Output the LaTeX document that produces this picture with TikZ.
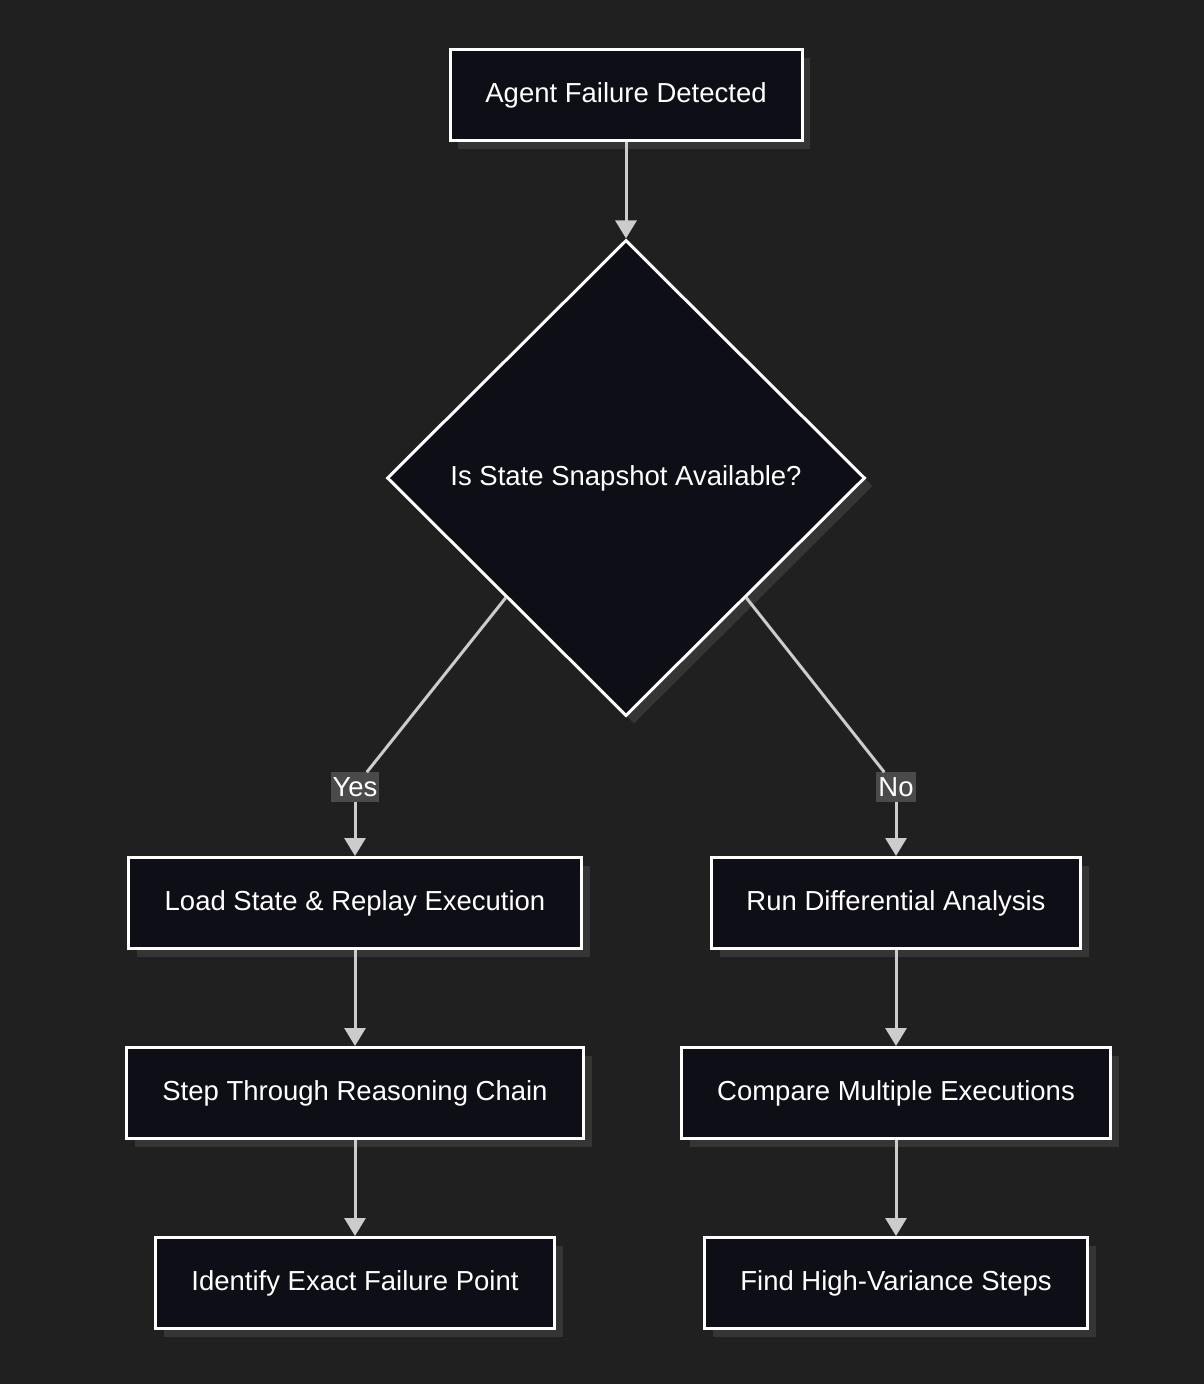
\documentclass[tikz,border=0pt]{standalone}
\usepackage{fontspec}
\setmainfont{Liberation Sans}
\usetikzlibrary{shapes.geometric,shadows,arrows.meta}
\definecolor{bgc}{HTML}{202020}
\definecolor{boxc}{HTML}{0E0E17}
\definecolor{shc}{HTML}{353535}
\definecolor{linec}{HTML}{CCCCCC}
\definecolor{labc}{HTML}{4A4A4A}
\begin{document}
\begin{tikzpicture}[x=1pt, y=-1pt,
    box/.style = {draw=white, line width=3pt, fill=boxc, text=white, font=\fontsize{27.5}{30}\selectfont,
        minimum height=91pt, inner xsep=0pt, drop shadow={shadow xshift=8pt, shadow yshift=-8pt, fill=shc, opacity=1}},
    decision/.style = {box, diamond, inner sep=0pt, minimum width=478pt, minimum height=476pt},
    lab/.style = {fill=labc, text=white, font=\fontsize{27.5}{30}\selectfont, inner xsep=2pt, inner ysep=5pt},
    arr/.style = {draw=linec, line width=3pt, -{Triangle[length=18pt,width=21pt]}},
    seg/.style = {draw=linec, line width=3pt}]
    \fill[bgc] (0,0) rectangle (1204,1384);
    \node[box, minimum width=352pt] (start) at (626,95) {Agent Failure Detected};
    \node[decision] (snap) at (626,478) {Is State Snapshot Available?};
    \node[box, minimum width=453pt] (load) at (355,903) {Load State \& Replay Execution};
    \node[box, minimum width=457pt] (step) at (355,1093) {Step Through Reasoning Chain};
    \node[box, minimum width=399pt] (ident) at (355,1283) {Identify Exact Failure Point};
    \node[box, minimum width=369pt] (diff) at (896,903) {Run Differential Analysis};
    \node[box, minimum width=429pt] (comp) at (896,1093) {Compare Multiple Executions};
    \node[box, minimum width=383pt] (find) at (896,1283) {Find High-Variance Steps};
    \node[lab] (yes) at (355,787) {Yes};
    \node[lab] (no) at (896,787) {No};
    \draw[arr] (start) -- (snap);
    \draw[seg] (snap.south west) -- (yes);
    \draw[arr] (yes) -- (load);
    \draw[seg] (snap.south east) -- (no);
    \draw[arr] (no) -- (diff);
    \draw[arr] (load) -- (step);
    \draw[arr] (step) -- (ident);
    \draw[arr] (diff) -- (comp);
    \draw[arr] (comp) -- (find);
\end{tikzpicture}
\end{document}
